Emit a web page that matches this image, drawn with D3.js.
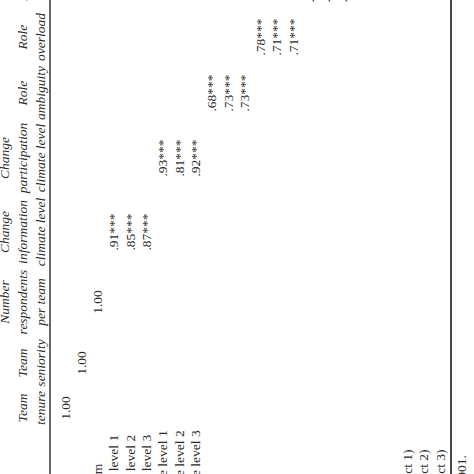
<!DOCTYPE html>
<html><head><meta charset="utf-8">
<script src="https://cdn.jsdelivr.net/npm/d3@7"></script>
<style>body{margin:0;background:#fff}</style></head>
<body><svg id="c" width="474" height="474"></svg>
<script>
const columnHeaders = [
  ["Team","tenure"],
  ["Team","seniority"],
  ["Number","respondents","per team"],
  ["Change","information","climate level"],
  ["Change","participation","climate level"],
  ["Role","ambiguity"],
  ["Role","overload"],
  ["Latent","level"]
];
const rowLabels = [
  "Team tenure","Team seniority","Number respondents per team",
  "Change information climate level 1","Change information climate level 2","Change information climate level 3",
  "Change participation climate level 1","Change participation climate level 2","Change participation climate level 3",
  "Role ambiguity 1","Role ambiguity 2","Role ambiguity 3",
  "Role overload 1","Role overload 2","Role overload 3",
  "Latent 1","Latent 2","Latent 3",
  "Conflict 1","Conflict 2","Conflict 3",
  "Relationship conflict (conflict 1)","Relationship conflict (conflict 2)","Relationship conflict (conflict 3)"
];
const loadingValues = ["1.00","1.00","1.00",".91***",".85***",".87***",".93***",".81***",".92***",".68***",".73***",".73***",".78***",".71***",".71***",".80***",".84***",".79***"];
const loadingColumn = [0,1,2,3,3,3,4,4,4,5,5,5,6,6,6,7,7,7];
const footnote = "Note. * p < .05. ** p < .01. *** p < .001.";

const svg = d3.select("#c");
const ink = "#2a2a2a";
const font = "'Liberation Serif','Times New Roman',serif";
const rowX = d3.scaleLinear().domain([0, rowLabels.length-1]).range([65, 440]);
const colY = d3.scaleOrdinal().domain(d3.range(columnHeaders.length)).range([408,363,302,232,158,93,37,-16]);

svg.append("line").attr("x1",50).attr("x2",50).attr("y1",0).attr("y2",474).attr("stroke","#333").attr("stroke-width",1.5);
svg.append("line").attr("x1",451).attr("x2",451).attr("y1",0).attr("y2",474).attr("stroke","#333").attr("stroke-width",1.8);

function rtext(x,y,t,anchor,italic){
  return svg.append("text").attr("transform",`translate(${x},${y}) rotate(-90)`)
    .attr("text-anchor",anchor).attr("font-family",font).attr("font-size",13.5)
    .attr("font-style",italic?"italic":"normal").attr("fill",ink).text(t);
}
columnHeaders.forEach((lines,c)=>{
  const n=lines.length;
  lines.forEach((l,k)=>{
    const x = 45 - (n-1-k)*18;
    rtext(x, colY(c), l, "middle", true);
  });
});
rowLabels.forEach((l,i)=>rtext(rowX(i)+4.5, 626, l, "start", false));
loadingValues.forEach((v,i)=>rtext(rowX(i)+4.5, colY(loadingColumn[i]), v, "middle", false));
rtext(466, 455, footnote, "end", false);
</script></body></html>
